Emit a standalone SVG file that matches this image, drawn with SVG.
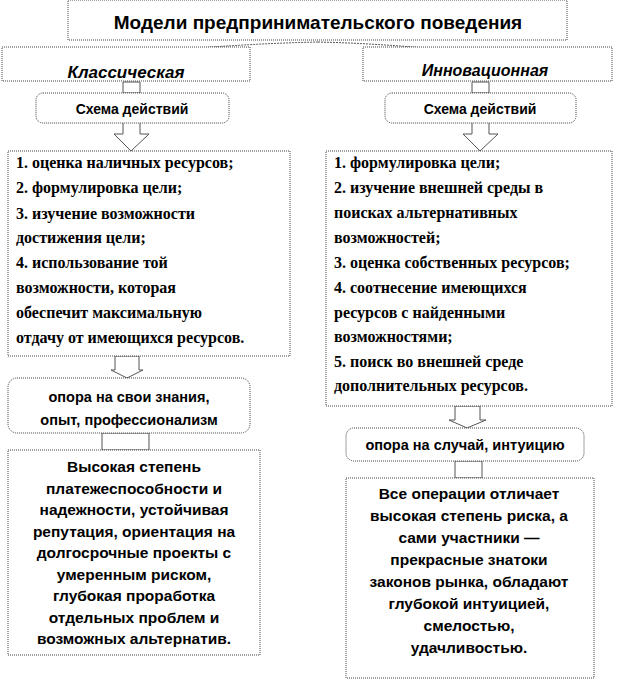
<svg xmlns="http://www.w3.org/2000/svg" width="623" height="680" viewBox="0 0 623 680">
<style>
.b{fill:#fff;stroke:#444;stroke-width:1;stroke-dasharray:1 1}
.ba{fill:#fff;stroke:#555;stroke-width:1}
.h{font-family:"Liberation Sans",Arial,sans-serif;font-weight:bold;fill:#000}
.t{font-family:"Liberation Serif",serif;font-weight:bold;font-size:16px;fill:#000}
.c{text-anchor:middle}
</style>
<defs>
<marker id="ah" markerWidth="8" markerHeight="8" refX="7" refY="4" orient="auto" markerUnits="userSpaceOnUse"><path d="M0,1 L8,4 L0,7 Z" fill="#000"/></marker>
</defs>
<g id="connectors">
<path d="M318,42 Q230,44 130,54" fill="none" stroke="#555" stroke-dasharray="2 1" marker-end="url(#ah)"/>
<path d="M318,42 Q400,44 482,54" fill="none" stroke="#555" stroke-dasharray="2 1" marker-end="url(#ah)"/>
<path class="ba" d="M123,82 H140 V93 H123 Z"/>
<path class="ba" d="M472,82 H489 V93 H472 Z"/>
<path class="ba" d="M123,122 H140 V134 H149 L131,151 L114,134 H123 Z"/>
<path class="ba" d="M472,122 H489 V134 H498 L480,151 L463,134 H472 Z"/>
<path class="ba" d="M115,356 H139 V370 H143 L127,378 L111,370 H115 Z"/>
<path class="ba" d="M455,406 H480 V420 H486 L467,428 L449,420 H455 Z"/>
<path class="ba" d="M102,433 H149 V450 H102 Z"/>
<path class="ba" d="M455,461 H482 V478 H455 Z"/>
</g>
<g id="title"><rect class="b" x="68" y="0" width="499" height="40"/><text class="h c" x="318" y="29" font-size="19">Модели предпринимательского поведения</text></g>
<g id="klass"><rect class="b" x="2" y="47" width="248" height="34"/><text class="h c" x="126" y="78" font-size="17" font-style="italic">Классическая</text></g>
<g id="innov"><rect class="b" x="363" y="47" width="249" height="34"/><text class="h c" x="485" y="76" font-size="16" font-style="italic">Инновационная</text></g>
<g id="schema1"><rect class="b" x="36" y="93" width="193" height="30" rx="7"/><text class="h c" x="132" y="114" font-size="14">Схема действий</text></g>
<g id="schema2"><rect class="b" x="385" y="93" width="191" height="30" rx="7"/><text class="h c" x="480" y="114" font-size="14">Схема действий</text></g>
<g id="list1"><rect class="b" x="8" y="151" width="282" height="205"/>
<text class="t" x="16" y="168">1. оценка наличных ресурсов;</text>
<text class="t" x="16" y="193">2. формулировка цели;</text>
<text class="t" x="16" y="219">3. изучение возможности</text>
<text class="t" x="16" y="243">достижения цели;</text>
<text class="t" x="16" y="268">4. использование той</text>
<text class="t" x="16" y="293">возможности, которая</text>
<text class="t" x="16" y="318">обеспечит максимальную</text>
<text class="t" x="16" y="343">отдачу от имеющихся ресурсов.</text></g>
<g id="list2"><rect class="b" x="326" y="151" width="286" height="255"/>
<text class="t" x="334" y="168">1. формулировка цели;</text>
<text class="t" x="334" y="193">2. изучение внешней  среды в</text>
<text class="t" x="334" y="218">поисках альтернативных</text>
<text class="t" x="334" y="243">возможностей;</text>
<text class="t" x="334" y="268">3. оценка собственных ресурсов;</text>
<text class="t" x="334" y="293">4. соотнесение имеющихся</text>
<text class="t" x="334" y="318">ресурсов с найденными</text>
<text class="t" x="334" y="342">возможностями;</text>
<text class="t" x="334" y="367">5. поиск во внешней  среде</text>
<text class="t" x="334" y="391">дополнительных ресурсов.</text></g>
<g id="opora1"><rect class="b" x="8" y="378" width="242" height="55" rx="9"/><text class="h c" x="129" y="402" font-size="14.5">опора на свои знания,</text><text class="h c" x="129" y="425" font-size="14.5">опыт, профессионализм</text></g>
<g id="opora2"><rect class="b" x="346" y="428" width="238" height="33" rx="8"/><text class="h c" x="465" y="450" font-size="14.5">опора на случай, интуицию</text></g>
<g id="res1"><rect class="b" x="8" y="450" width="252" height="205"/>
<g class="h c" font-size="15.5">
<text x="134" y="472">Высокая степень</text>
<text x="134" y="494">платежеспособности и</text>
<text x="134" y="515">надежности, устойчивая</text>
<text x="134" y="537">репутация, ориентация на</text>
<text x="134" y="558">долгосрочные проекты с</text>
<text x="134" y="580">умеренным риском,</text>
<text x="134" y="601">глубокая проработка</text>
<text x="134" y="623">отдельных проблем и</text>
<text x="134" y="644">возможных альтернатив.</text></g></g>
<g id="res2"><rect class="b" x="346" y="478" width="248" height="200"/>
<g class="h c" font-size="15.5">
<text x="469" y="499">Все операции отличает</text>
<text x="469" y="521">высокая степень риска, а</text>
<text x="469" y="543">сами участники —</text>
<text x="469" y="565">прекрасные знатоки</text>
<text x="469" y="587">законов рынка, обладают</text>
<text x="469" y="609">глубокой интуицией,</text>
<text x="469" y="631">смелостью,</text>
<text x="469" y="653">удачливостью.</text></g></g>
</svg>
